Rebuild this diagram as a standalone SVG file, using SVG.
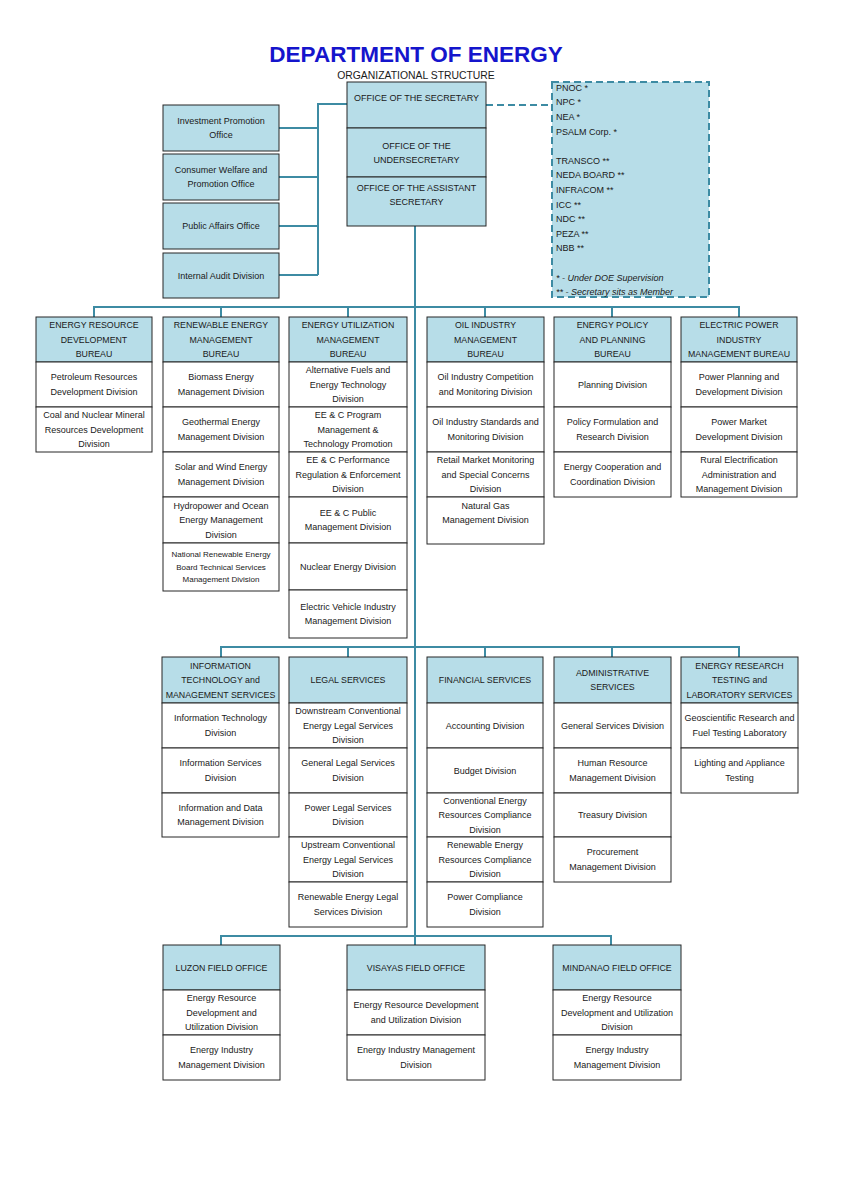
<svg xmlns="http://www.w3.org/2000/svg" width="848" height="1200" viewBox="0 0 848 1200">
<style>
.bg{fill:#ffffff}
.h{fill:#b7dde8;stroke:#262626;stroke-width:1}
.c{fill:#ffffff;stroke:#262626;stroke-width:1}
.t{font-family:"Liberation Sans",Arial,sans-serif;font-size:9px;fill:#1a1a1a;text-anchor:middle}
.hd{font-size:8.8px}
.sm{font-size:8px}
.l{text-anchor:start}
.it{font-style:italic}
.conn{fill:none;stroke:#3d8ba3;stroke-width:2}
.dash{fill:none;stroke:#3d8ba3;stroke-width:2;stroke-dasharray:7 4}
.title{font-family:"Liberation Sans",Arial,sans-serif;font-weight:bold;font-size:22.5px;fill:#1515cc;text-anchor:middle}
.sub{font-family:"Liberation Sans",Arial,sans-serif;font-size:10.4px;fill:#1a1a1a;text-anchor:middle}
</style>
<rect class="bg" x="0" y="0" width="848" height="1200"/>
<text class="title" x="416" y="62">DEPARTMENT OF ENERGY</text>
<text class="sub" x="416" y="79">ORGANIZATIONAL STRUCTURE</text>

<g id="connectors">
<path class="conn" d="M347 104H318V275M279 128H318M279 177H318M279 226H318M279 275H318"/>
<path class="dash" d="M486 105H552"/>
<path class="conn" d="M415 226V936"/>
<path class="conn" d="M94 317V307H739V317M221 307V317M348 307V317M485 307V317M612 307V317"/>
<path class="conn" d="M221 657V647H739V657M348 647V657M485 647V657M612 647V657"/>
<path class="conn" d="M221 945V936H611V945M415 936V945"/>
</g>

<g id="office">
<rect class="h" x="347" y="82" width="139" height="46"/>
<rect class="h" x="347" y="128" width="139" height="49"/>
<rect class="h" x="347" y="177" width="139" height="49"/>
<text class="t" x="416.5" y="100.9">OFFICE OF THE SECRETARY</text>
<text class="t" x="416.5" y="148.9">OFFICE OF THE</text>
<text class="t" x="416.5" y="163.2">UNDERSECRETARY</text>
<text class="t" x="416.5" y="190.5">OFFICE OF THE ASSISTANT</text>
<text class="t" x="416.5" y="204.9">SECRETARY</text>
</g>

<g id="investment-promotion">
<rect class="h" x="163" y="105" width="116" height="46"/>
<text class="t" x="221" y="123.95">Investment Promotion</text>
<text class="t" x="221" y="138.45">Office</text>
</g>
<g id="consumer-welfare">
<rect class="h" x="163" y="154" width="116" height="46"/>
<text class="t" x="221" y="172.95">Consumer Welfare and</text>
<text class="t" x="221" y="187.45">Promotion Office</text>
</g>
<g id="public-affairs">
<rect class="h" x="163" y="203" width="116" height="46"/>
<text class="t" x="221" y="229.2">Public Affairs Office</text>
</g>
<g id="internal-audit">
<rect class="h" x="163" y="253" width="116" height="45"/>
<text class="t" x="221" y="278.7">Internal Audit Division</text>
</g>

<g id="attached-agencies">
<rect class="h" x="552" y="82" width="157" height="215" style="stroke:#3d8ba3;stroke-width:2;stroke-dasharray:7 4"/>
<text class="t l" x="556" y="90.7">PNOC *</text>
<text class="t l" x="556" y="105.3">NPC *</text>
<text class="t l" x="556" y="119.9">NEA *</text>
<text class="t l" x="556" y="134.5">PSALM Corp. *</text>
<text class="t l" x="556" y="163.7">TRANSCO **</text>
<text class="t l" x="556" y="178.3">NEDA BOARD **</text>
<text class="t l" x="556" y="192.9">INFRACOM **</text>
<text class="t l" x="556" y="207.5">ICC **</text>
<text class="t l" x="556" y="222.1">NDC **</text>
<text class="t l" x="556" y="236.7">PEZA **</text>
<text class="t l" x="556" y="251.3">NBB **</text>
<text class="t l it" x="556" y="280.5">* - Under DOE Supervision</text>
<text class="t l it" x="556" y="295.1">** - Secretary sits as Member</text>
</g>

<!-- Row 1 -->
<g id="erdb">
<rect class="h" x="36" y="317" width="116" height="45"/>
<rect class="c" x="36" y="362" width="116" height="45"/>
<rect class="c" x="36" y="407" width="116" height="45"/>
<text class="t hd" x="94" y="328.2">ENERGY RESOURCE</text>
<text class="t hd" x="94" y="342.7">DEVELOPMENT</text>
<text class="t hd" x="94" y="357.2">BUREAU</text>
<text class="t" x="94" y="380.45">Petroleum Resources</text>
<text class="t" x="94" y="394.95">Development Division</text>
<text class="t" x="94" y="418.2">Coal and Nuclear Mineral</text>
<text class="t" x="94" y="432.7">Resources Development</text>
<text class="t" x="94" y="447.2">Division</text>
</g>

<g id="remb">
<rect class="h" x="163" y="317" width="116" height="45"/>
<rect class="c" x="163" y="362" width="116" height="45"/>
<rect class="c" x="163" y="407" width="116" height="45"/>
<rect class="c" x="163" y="452" width="116" height="45"/>
<rect class="c" x="163" y="497" width="116" height="46"/>
<rect class="c" x="163" y="543" width="116" height="48"/>
<text class="t hd" x="221" y="328.2">RENEWABLE ENERGY</text>
<text class="t hd" x="221" y="342.7">MANAGEMENT</text>
<text class="t hd" x="221" y="357.2">BUREAU</text>
<text class="t" x="221" y="380.45">Biomass Energy</text>
<text class="t" x="221" y="394.95">Management Division</text>
<text class="t" x="221" y="425.45">Geothermal Energy</text>
<text class="t" x="221" y="439.95">Management Division</text>
<text class="t" x="221" y="470.45">Solar and Wind Energy</text>
<text class="t" x="221" y="484.95">Management Division</text>
<text class="t" x="221" y="508.7">Hydropower and Ocean</text>
<text class="t" x="221" y="523.2">Energy Management</text>
<text class="t" x="221" y="537.7">Division</text>
<text class="t sm" x="221" y="557.4">National Renewable Energy</text>
<text class="t sm" x="221" y="569.9">Board Technical Services</text>
<text class="t sm" x="221" y="582.4">Management Division</text>
</g>

<g id="eumb">
<rect class="h" x="289" y="317" width="118" height="45"/>
<rect class="c" x="289" y="362" width="118" height="45"/>
<rect class="c" x="289" y="407" width="118" height="45"/>
<rect class="c" x="289" y="452" width="118" height="45"/>
<rect class="c" x="289" y="497" width="118" height="46"/>
<rect class="c" x="289" y="543" width="118" height="47"/>
<rect class="c" x="289" y="590" width="118" height="48"/>
<text class="t hd" x="348" y="328.2">ENERGY UTILIZATION</text>
<text class="t hd" x="348" y="342.7">MANAGEMENT</text>
<text class="t hd" x="348" y="357.2">BUREAU</text>
<text class="t" x="348" y="373.2">Alternative Fuels and</text>
<text class="t" x="348" y="387.7">Energy Technology</text>
<text class="t" x="348" y="402.2">Division</text>
<text class="t" x="348" y="418.2">EE &amp; C Program</text>
<text class="t" x="348" y="432.7">Management &amp;</text>
<text class="t" x="348" y="447.2">Technology Promotion</text>
<text class="t" x="348" y="463.2">EE &amp; C Performance</text>
<text class="t" x="348" y="477.7">Regulation &amp; Enforcement</text>
<text class="t" x="348" y="492.2">Division</text>
<text class="t" x="348" y="515.95">EE &amp; C Public</text>
<text class="t" x="348" y="530.45">Management Division</text>
<text class="t" x="348" y="569.7">Nuclear Energy Division</text>
<text class="t" x="348" y="609.95">Electric Vehicle Industry</text>
<text class="t" x="348" y="624.45">Management Division</text>
</g>

<g id="oimb">
<rect class="h" x="427" y="317" width="117" height="45"/>
<rect class="c" x="427" y="362" width="117" height="45"/>
<rect class="c" x="427" y="407" width="117" height="45"/>
<rect class="c" x="427" y="452" width="117" height="45"/>
<rect class="c" x="427" y="497" width="117" height="47"/>
<text class="t hd" x="485.5" y="328.2">OIL INDUSTRY</text>
<text class="t hd" x="485.5" y="342.7">MANAGEMENT</text>
<text class="t hd" x="485.5" y="357.2">BUREAU</text>
<text class="t" x="485.5" y="380.45">Oil Industry Competition</text>
<text class="t" x="485.5" y="394.95">and Monitoring Division</text>
<text class="t" x="485.5" y="425.45">Oil Industry Standards and</text>
<text class="t" x="485.5" y="439.95">Monitoring Division</text>
<text class="t" x="485.5" y="463.2">Retail Market Monitoring</text>
<text class="t" x="485.5" y="477.7">and Special Concerns</text>
<text class="t" x="485.5" y="492.2">Division</text>
<text class="t" x="485.5" y="508.95">Natural Gas</text>
<text class="t" x="485.5" y="523.45">Management Division</text>
</g>

<g id="eppb">
<rect class="h" x="554" y="317" width="117" height="45"/>
<rect class="c" x="554" y="362" width="117" height="45"/>
<rect class="c" x="554" y="407" width="117" height="45"/>
<rect class="c" x="554" y="452" width="117" height="45"/>
<text class="t hd" x="612.5" y="328.2">ENERGY POLICY</text>
<text class="t hd" x="612.5" y="342.7">AND PLANNING</text>
<text class="t hd" x="612.5" y="357.2">BUREAU</text>
<text class="t" x="612.5" y="387.7">Planning Division</text>
<text class="t" x="612.5" y="425.45">Policy Formulation and</text>
<text class="t" x="612.5" y="439.95">Research Division</text>
<text class="t" x="612.5" y="470.45">Energy Cooperation and</text>
<text class="t" x="612.5" y="484.95">Coordination Division</text>
</g>

<g id="epimb">
<rect class="h" x="681" y="317" width="116" height="45"/>
<rect class="c" x="681" y="362" width="116" height="45"/>
<rect class="c" x="681" y="407" width="116" height="45"/>
<rect class="c" x="681" y="452" width="116" height="45"/>
<text class="t hd" x="739" y="328.2">ELECTRIC POWER</text>
<text class="t hd" x="739" y="342.7">INDUSTRY</text>
<text class="t hd" x="739" y="357.2">MANAGEMENT BUREAU</text>
<text class="t" x="739" y="380.45">Power Planning and</text>
<text class="t" x="739" y="394.95">Development Division</text>
<text class="t" x="739" y="425.45">Power Market</text>
<text class="t" x="739" y="439.95">Development Division</text>
<text class="t" x="739" y="463.2">Rural Electrification</text>
<text class="t" x="739" y="477.7">Administration and</text>
<text class="t" x="739" y="492.2">Management Division</text>
</g>

<!-- Row 2 -->
<g id="itms">
<rect class="h" x="162" y="657" width="117" height="46"/>
<rect class="c" x="162" y="703" width="117" height="45"/>
<rect class="c" x="162" y="748" width="117" height="45"/>
<rect class="c" x="162" y="793" width="117" height="44"/>
<text class="t hd" x="220.5" y="668.7">INFORMATION</text>
<text class="t hd" x="220.5" y="683.2">TECHNOLOGY and</text>
<text class="t hd" x="220.5" y="697.7">MANAGEMENT SERVICES</text>
<text class="t" x="220.5" y="721.45">Information Technology</text>
<text class="t" x="220.5" y="735.95">Division</text>
<text class="t" x="220.5" y="766.45">Information Services</text>
<text class="t" x="220.5" y="780.95">Division</text>
<text class="t" x="220.5" y="810.95">Information and Data</text>
<text class="t" x="220.5" y="825.45">Management Division</text>
</g>

<g id="legal">
<rect class="h" x="289" y="657" width="118" height="46"/>
<rect class="c" x="289" y="703" width="118" height="45"/>
<rect class="c" x="289" y="748" width="118" height="45"/>
<rect class="c" x="289" y="793" width="118" height="44"/>
<rect class="c" x="289" y="837" width="118" height="45"/>
<rect class="c" x="289" y="882" width="118" height="45"/>
<text class="t hd" x="348" y="683.2">LEGAL SERVICES</text>
<text class="t" x="348" y="714.2">Downstream Conventional</text>
<text class="t" x="348" y="728.7">Energy Legal Services</text>
<text class="t" x="348" y="743.2">Division</text>
<text class="t" x="348" y="766.45">General Legal Services</text>
<text class="t" x="348" y="780.95">Division</text>
<text class="t" x="348" y="810.95">Power Legal Services</text>
<text class="t" x="348" y="825.45">Division</text>
<text class="t" x="348" y="848.2">Upstream Conventional</text>
<text class="t" x="348" y="862.7">Energy Legal Services</text>
<text class="t" x="348" y="877.2">Division</text>
<text class="t" x="348" y="900.45">Renewable Energy Legal</text>
<text class="t" x="348" y="914.95">Services Division</text>
</g>

<g id="financial">
<rect class="h" x="427" y="657" width="116" height="46"/>
<rect class="c" x="427" y="703" width="116" height="45"/>
<rect class="c" x="427" y="748" width="116" height="45"/>
<rect class="c" x="427" y="793" width="116" height="44"/>
<rect class="c" x="427" y="837" width="116" height="45"/>
<rect class="c" x="427" y="882" width="116" height="45"/>
<text class="t hd" x="485" y="683.2">FINANCIAL SERVICES</text>
<text class="t" x="485" y="728.7">Accounting Division</text>
<text class="t" x="485" y="773.7">Budget Division</text>
<text class="t" x="485" y="803.7">Conventional Energy</text>
<text class="t" x="485" y="818.2">Resources Compliance</text>
<text class="t" x="485" y="832.7">Division</text>
<text class="t" x="485" y="848.2">Renewable Energy</text>
<text class="t" x="485" y="862.7">Resources Compliance</text>
<text class="t" x="485" y="877.2">Division</text>
<text class="t" x="485" y="900.45">Power Compliance</text>
<text class="t" x="485" y="914.95">Division</text>
</g>

<g id="administrative">
<rect class="h" x="554" y="657" width="117" height="46"/>
<rect class="c" x="554" y="703" width="117" height="45"/>
<rect class="c" x="554" y="748" width="117" height="45"/>
<rect class="c" x="554" y="793" width="117" height="44"/>
<rect class="c" x="554" y="837" width="117" height="45"/>
<text class="t hd" x="612.5" y="675.95">ADMINISTRATIVE</text>
<text class="t hd" x="612.5" y="690.45">SERVICES</text>
<text class="t" x="612.5" y="728.7">General Services Division</text>
<text class="t" x="612.5" y="766.45">Human Resource</text>
<text class="t" x="612.5" y="780.95">Management Division</text>
<text class="t" x="612.5" y="818.2">Treasury Division</text>
<text class="t" x="612.5" y="855.45">Procurement</text>
<text class="t" x="612.5" y="869.95">Management Division</text>
</g>

<g id="research">
<rect class="h" x="681" y="657" width="117" height="46"/>
<rect class="c" x="681" y="703" width="117" height="45"/>
<rect class="c" x="681" y="748" width="117" height="45"/>
<text class="t hd" x="739.5" y="668.7">ENERGY RESEARCH</text>
<text class="t hd" x="739.5" y="683.2">TESTING and</text>
<text class="t hd" x="739.5" y="697.7">LABORATORY SERVICES</text>
<text class="t" x="739.5" y="721.45">Geoscientific Research and</text>
<text class="t" x="739.5" y="735.95">Fuel Testing Laboratory</text>
<text class="t" x="739.5" y="766.45">Lighting and Appliance</text>
<text class="t" x="739.5" y="780.95">Testing</text>
</g>

<!-- Row 3 -->
<g id="luzon">
<rect class="h" x="163" y="945" width="117" height="45"/>
<rect class="c" x="163" y="990" width="117" height="45"/>
<rect class="c" x="163" y="1035" width="117" height="45"/>
<text class="t hd" x="221.5" y="970.7">LUZON FIELD OFFICE</text>
<text class="t" x="221.5" y="1001.2">Energy Resource</text>
<text class="t" x="221.5" y="1015.7">Development and</text>
<text class="t" x="221.5" y="1030.2">Utilization Division</text>
<text class="t" x="221.5" y="1053.45">Energy Industry</text>
<text class="t" x="221.5" y="1067.95">Management Division</text>
</g>

<g id="visayas">
<rect class="h" x="347" y="945" width="138" height="45"/>
<rect class="c" x="347" y="990" width="138" height="45"/>
<rect class="c" x="347" y="1035" width="138" height="45"/>
<text class="t hd" x="416" y="970.7">VISAYAS FIELD OFFICE</text>
<text class="t" x="416" y="1008.45">Energy Resource Development</text>
<text class="t" x="416" y="1022.95">and Utilization Division</text>
<text class="t" x="416" y="1053.45">Energy Industry Management</text>
<text class="t" x="416" y="1067.95">Division</text>
</g>

<g id="mindanao">
<rect class="h" x="553" y="945" width="128" height="45"/>
<rect class="c" x="553" y="990" width="128" height="45"/>
<rect class="c" x="553" y="1035" width="128" height="45"/>
<text class="t hd" x="617" y="970.7">MINDANAO FIELD OFFICE</text>
<text class="t" x="617" y="1001.2">Energy Resource</text>
<text class="t" x="617" y="1015.7">Development and Utilization</text>
<text class="t" x="617" y="1030.2">Division</text>
<text class="t" x="617" y="1053.45">Energy Industry</text>
<text class="t" x="617" y="1067.95">Management Division</text>
</g>
</svg>
